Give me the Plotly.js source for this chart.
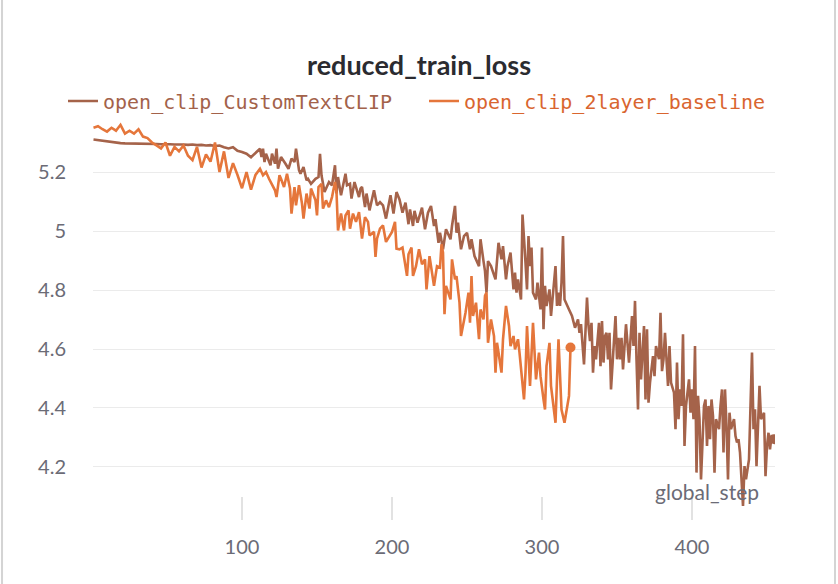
<!DOCTYPE html>
<html>
<head>
<meta charset="utf-8">
<script src="https://cdn.plot.ly/plotly-3.0.1.min.js"></script>
<style>
  html, body { margin: 0; padding: 0; background: #fff; }
  #chart { width: 838px; height: 584px; }
</style>
</head>
<body>
<div id="chart"></div>
<script>
// values (global_step, loss)
var customSteps = [1,4,7,10,13,16,19,22,25,28,31,34,37,40,43,46,49,52,55,58,61,64,67,70,73,76,79,82,85,88,91,94,97,100,103,106,109,
  112,113,114,115,116,119,120,122,123,124,126,129,131,133,135,136,138,139,141,143,144,146,149,151,152,153,155,158,160,162,
  163,164,166,169,170,172,173,175,178,179,180,182,183,185,188,190,192,194,196,199,201,203,
  205,207,209,211,212,214,215,217,220,222,224,226,228,229,231,232,234,236,239,240,242,243,244,246,248,250,252,253,255,258,
  259,261,262,263,264,266,269,271,273,274,276,277,279,281,282,283,284,286,287,289,290,291,292,293,294,296,297,299,300,301,
  302,303,305,306,309,310,311,312,313,314,
  315,318,320,322,323,324,325,326,328,329,330,331,332,333,334,335,336,338,339,340,341,342,343,344,345,346,348,349,350,351,
  352,353,354,355,356,358,359,360,361,362,363,364,365,366,368,369,370,371,372,374,375,376,378,379,380,381,382,383,384,385,
  386,388,389,390,391,392,393,394,395,396,398,399,400,401,402,403,404,405,406,408,409,410,411,412,413,414,415,416,418,419,
  420,421,422,423,424,425,426,428,429,430,431,432,433,434,435,436,438,439,440,441,442,443,444,445,446,448,449,450,451,452,
  453,454,455];
var customLoss = [5.31,5.308,5.305,5.303,5.30,5.30,5.298,5.297,5.297,5.296,5.297,5.296,5.295,5.296,5.295,5.294,5.295,5.294,5.293,5.294,
  5.293,5.292,5.293,5.291,5.292,5.29,5.291,5.288,5.29,5.284,5.28,5.284,5.272,5.268,5.262,5.25,5.265,
  5.279,5.251,5.279,5.234,5.262,5.223,5.262,5.228,5.279,5.211,5.251,5.228,5.211,5.245,5.234,5.279,5.206,5.194,5.217,5.172,
  5.177,5.160,5.177,5.183,5.262,5.189,5.132,5.166,5.155,5.223,5.127,5.183,5.121,5.194,5.155,5.160,5.110,5.166,5.115,5.144,
  5.149,5.081,5.127,5.070,5.138,5.087,5.098,5.087,5.042,5.121,5.059,5.132,
  5.107,5.062,5.096,5.023,5.073,5.017,5.068,5.028,5.079,5.006,5.062,5.085,5.017,5.04,4.96,4.994,4.938,5.006,4.972,5.017,
  5.085,4.994,5.028,4.938,4.983,4.994,4.938,4.972,4.915,4.881,4.972,4.898,4.864,4.791,4.898,4.881,4.836,4.96,4.904,4.949,
  4.836,4.881,4.927,4.802,4.859,4.791,4.836,4.768,5.056,4.893,4.802,4.983,4.881,4.944,4.791,4.768,4.825,4.734,4.944,4.667,
  4.814,4.746,4.802,4.712,4.881,4.746,4.791,4.746,4.825,4.983,
  4.768,4.734,4.712,4.672,4.689,4.70,4.655,4.684,4.548,4.644,4.774,4.678,4.627,4.689,4.52,4.61,4.565,4.689,4.542,4.695,
  4.554,4.644,4.655,4.565,4.655,4.463,4.621,4.712,4.565,4.638,4.565,4.638,4.531,4.621,4.684,4.554,4.655,4.712,4.61,4.763,
  4.565,4.395,4.655,4.497,4.678,4.429,4.667,4.418,4.486,4.576,4.508,4.61,4.565,4.723,4.525,4.565,4.655,4.542,4.475,4.61,
  4.486,4.452,4.328,4.554,4.362,4.463,4.407,4.65,4.271,4.407,4.497,4.384,4.463,4.362,4.61,4.181,4.441,4.362,4.158,4.407,
  4.429,4.271,4.407,4.294,4.429,4.373,4.181,4.362,4.328,4.407,4.463,4.249,4.463,4.339,4.158,4.384,4.328,4.362,4.305,4.283,
  4.294,4.249,4.169,4.068,4.203,4.158,4.226,4.384,4.588,4.328,4.396,4.203,4.316,4.475,4.362,4.384,4.169,4.271,4.316,4.26,
  4.305,4.305,4.294];

var baseSteps = [1,4,7,10,13,16,19,22,25,28,31,34,37,40,43,46,49,52,55,58,61,64,67,70,73,76,79,82,85,88,91,94,97,100,103,106,109,
  112,114,116,118,120,122,123,124,125,126,128,130,132,133,134,135,136,138,140,141,143,145,146,149,150,151,153,154,156,158,
  160,162,163,164,166,168,169,171,172,174,176,178,180,182,184,185,188,189,190,192,194,196,200,202,203,
  205,207,210,211,213,214,216,218,220,222,223,225,228,230,232,233,234,235,236,239,240,242,243,245,246,249,251,252,253,254,
  256,258,259,261,262,263,264,266,268,269,270,271,273,274,276,278,279,281,282,284,285,288,289,290,291,292,294,296,298,299,
  301,302,303,305,306,309,310,311,313,315,318,319];
var baseLoss = [5.35,5.355,5.345,5.337,5.35,5.34,5.36,5.33,5.34,5.33,5.345,5.32,5.315,5.30,5.29,5.28,5.30,5.255,5.285,5.27,
  5.29,5.255,5.24,5.285,5.215,5.26,5.235,5.30,5.20,5.27,5.18,5.23,5.19,5.145,5.20,5.14,5.19,
  5.211,5.189,5.2,5.177,5.155,5.138,5.115,5.155,5.189,5.177,5.149,5.194,5.144,5.059,5.104,5.149,5.087,5.155,5.093,5.042,
  5.127,5.076,5.144,5.104,5.053,5.149,5.160,5.076,5.104,5.081,5.115,5.166,5.132,5.002,5.059,5.002,5.053,5.070,5.008,5.059,
  5.031,5.064,4.974,5.047,5.031,4.985,4.997,4.912,4.974,5.008,5.019,4.963,4.997,5.031,4.94,
  4.938,4.944,4.848,4.921,4.944,4.848,4.881,4.938,4.887,4.904,4.802,4.915,4.814,4.881,4.876,4.955,4.927,4.718,4.814,4.768,
  4.904,4.836,4.847,4.757,4.644,4.723,4.791,4.689,4.847,4.712,4.757,4.633,4.734,4.70,4.78,4.791,4.621,4.70,4.644,4.52,
  4.621,4.588,4.52,4.633,4.746,4.678,4.61,4.644,4.599,4.633,4.588,4.429,4.52,4.678,4.588,4.475,4.689,4.497,4.588,4.508,
  4.429,4.395,4.542,4.621,4.475,4.35,4.497,4.633,4.395,4.35,4.441,4.605];

var brown = '#a5634a';
var orange = '#e5763b';
var gray = '#6b6b76';

var data = [
  {
    x: customSteps, y: customLoss, type: 'scatter', mode: 'lines',
    name: 'open_clip_CustomTextCLIP', legend: 'legend',
    line: {color: brown, width: 2.6}
  },
  {
    x: baseSteps, y: baseLoss, type: 'scatter', mode: 'lines',
    name: 'open_clip_2layer_baseline', legend: 'legend2',
    line: {color: orange, width: 2.6}
  },
  {
    x: [customSteps[customSteps.length - 1]], y: [customLoss[customLoss.length - 1]],
    type: 'scatter', mode: 'markers', showlegend: false,
    marker: {color: brown, size: 10}
  },
  {
    x: [baseSteps[baseSteps.length - 1]], y: [baseLoss[baseLoss.length - 1]],
    type: 'scatter', mode: 'markers', showlegend: false,
    marker: {color: orange, size: 10}
  }
];

var legendY = 1 - 101 / 584;

var layout = {
  width: 838, height: 584,
  margin: {l: 93, r: 63, t: 120, b: 64, autoexpand: false},
  paper_bgcolor: '#fff', plot_bgcolor: '#fff',
  font: {family: 'Lato, "Open Sans", sans-serif', size: 20, color: gray},
  title: {
    text: 'reduced_train_loss',
    font: {family: 'Lato, sans-serif', size: 27, color: '#2b2b30', weight: 'bold'},
    x: 0.5, xref: 'container', xanchor: 'center',
    y: 1 - 66 / 584, yref: 'container', yanchor: 'middle'
  },
  showlegend: true,
  legend: {
    orientation: 'h', xref: 'container', yref: 'container',
    x: 63 / 838, xanchor: 'left', y: legendY, yanchor: 'middle',
    font: {family: '"DejaVu Sans Mono", monospace', size: 20, color: '#a3624a'},
    bgcolor: 'rgba(0,0,0,0)'
  },
  legend2: {
    orientation: 'h', xref: 'container', yref: 'container',
    x: 424 / 838, xanchor: 'left', y: legendY, yanchor: 'middle',
    font: {family: '"DejaVu Sans Mono", monospace', size: 20, color: '#d9652f'},
    bgcolor: 'rgba(0,0,0,0)'
  },
  xaxis: {
    range: [0.667, 455.33],
    tickvals: [100, 200, 300, 400],
    showgrid: false, zeroline: false, showline: false,
    ticks: 'inside', ticklen: 23, tickwidth: 1.5, tickcolor: '#e2e2e2',
    ticklabelstandoff: 13,
    tickfont: {size: 20, color: gray}
  },
  yaxis: {
    range: [4.0203, 5.3763],
    tickvals: [4.2, 4.4, 4.6, 4.8, 5, 5.2],
    ticktext: ['4.2', '4.4', '4.6', '4.8', '5', '5.2'],
    showgrid: true, gridcolor: '#ebebeb', gridwidth: 1,
    zeroline: false, showline: false,
    ticks: '', ticklabelstandoff: 26,
    tickfont: {size: 20, color: gray}
  },
  annotations: [{
    text: 'global_step', xref: 'paper', yref: 'paper',
    x: 0.9, y: 0.0725, xanchor: 'center', yanchor: 'middle',
    showarrow: false, font: {size: 21, color: gray}
  }],
  shapes: [
    {type: 'line', xref: 'paper', yref: 'paper', x0: -0.1334, x1: -0.1334, y0: -0.2, y1: 1.35,
     line: {color: '#d4d4d4', width: 2}},
    {type: 'line', xref: 'paper', yref: 'paper', x0: 1.088, x1: 1.088, y0: -0.2, y1: 1.35,
     line: {color: '#d4d4d4', width: 2}}
  ]
};

Plotly.newPlot('chart', data, layout, {displayModeBar: false, staticPlot: true});
</script>
</body>
</html>
